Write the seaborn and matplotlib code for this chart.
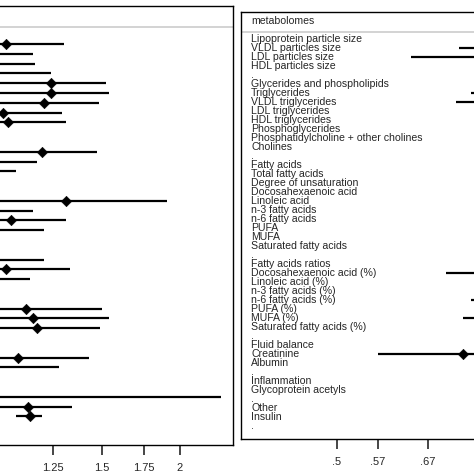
import numpy as np
import pandas as pd
import matplotlib
matplotlib.use("Agg")
import matplotlib.pyplot as plt
import seaborn as sns

sns.set_style("white")
plt.rcParams['font.family'] = ['Liberation Sans', 'DejaVu Sans']

# ---- left panel (labels cropped off) ----
left_rows = [0,1,2,3,4,5,6,7,8,11,12,13,16,17,18,19,22,23,24,27,28,29,32,33,36,37,38]
left_est  = [1.05,0.95,0.95,0.95,1.24,1.24,1.21,1.04,1.06,1.20,0.95,0.9,1.31,0.95,1.07,0.95,0.95,1.05,0.9,1.13,1.16,1.18,1.10,1.00,0.95,1.14,1.15]
left_lo   = [0.85,0.80,0.80,0.80,0.95,0.95,0.95,0.85,0.85,0.95,0.80,0.75,0.95,0.80,0.85,0.80,0.80,0.85,0.75,0.90,0.90,0.90,0.85,0.80,0.70,0.95,1.09]
left_hi   = [1.30,1.16,1.17,1.24,1.52,1.54,1.48,1.29,1.31,1.47,1.18,1.09,1.91,1.16,1.31,1.21,1.21,1.33,1.15,1.50,1.54,1.49,1.43,1.28,2.33,1.34,1.20]
left_ticks = [1.25, 1.5, 1.75, 2]
left_ticklabels = ["1.25", "1.5", "1.75", "2"]

# ---- right panel: metabolomes ----
labels = ["Lipoprotein particle size", "VLDL particles size", "LDL particles size", "HDL particles size", ".",
          "Glycerides and phospholipids", "Triglycerides", "VLDL triglycerides", "LDL triglycerides",
          "HDL triglycerides", "Phosphoglycerides", "Phosphatidylcholine + other cholines", "Cholines", ".",
          "Fatty acids", "Total fatty acids", "Degree of unsaturation", "Docosahexaenoic acid", "Linoleic acid",
          "n-3 fatty acids", "n-6 fatty acids", "PUFA", "MUFA", "Saturated fatty acids", ".",
          "Fatty acids ratios", "Docosahexaenoic acid (%)", "Linoleic acid (%)", "n-3 fatty acids (%)",
          "n-6 fatty acids (%)", "PUFA (%)", "MUFA (%)", "Saturated fatty acids (%)", ".",
          "Fluid balance", "Creatinine", "Albumin", ".", "Inflammation", "Glycoprotein acetyls", ".",
          "Other", "Insulin", "."]
right_rows = [1, 2, 6, 7, 26, 29, 31, 35]
right_est  = [0.86, 0.84, 0.90, 0.86, 0.85, 0.92, 0.88, 0.75]
right_lo   = [0.74, 0.635, 0.77, 0.735, 0.71, 0.77, 0.75, 0.57]
right_hi   = [1.00, 1.10, 1.05, 1.00, 1.02, 1.10, 1.03, 0.98]
right_ticks = [0.5, 0.57, 0.67]
right_ticklabels = [".5", ".57", ".67"]

W = H = 474
fig = plt.figure(figsize=(4.74, 4.74), dpi=100)

def fx(p): return p / W
def fy(p): return 1 - p / H

# Left axes: pixel 53 -> 1.25, 270 px per ln unit
Lx0, Lx1, Ly0, Ly1 = -200, 233, 6, 445
axL = fig.add_axes([fx(Lx0), fy(Ly1), (Lx1 - Lx0) / W, (Ly1 - Ly0) / H])
axL.set_xscale("log")
axL.set_xlim(1.25 * np.exp((Lx0 - 53) / 270), 1.25 * np.exp((Lx1 - 53) / 270))
r0, dr = 44, 9.8
axL.set_ylim((Ly1 - r0) / dr, (Ly0 - r0) / dr)
dfL = pd.DataFrame({"row": left_rows, "est": left_est, "lo": left_lo, "hi": left_hi})
axL.hlines(dfL["row"], dfL["lo"], dfL["hi"], color="black", lw=1.6)
sns.scatterplot(data=dfL[dfL["row"].isin([0,4,5,6,7,8,11,16,18,23,27,28,29,32,37,38])], x="est", y="row",
                marker="D", s=28, color="black", edgecolor="black", ax=axL, zorder=3)
axL.axhline((27 - r0) / dr, color="#cccccc", lw=1.2)

# Right axes: pixel 337 -> 0.5, 310 px per ln unit
Rx0, Rx1, Ry0, Ry1 = 241, 720, 12, 439
axR = fig.add_axes([fx(Rx0), fy(Ry1), (Rx1 - Rx0) / W, (Ry1 - Ry0) / H])
axR.set_xscale("log")
axR.set_xlim(0.5 * np.exp((Rx0 - 337) / 310), 0.5 * np.exp((Rx1 - 337) / 310))
q0, dq = 39, 9.0
axR.set_ylim((Ry1 - q0) / dq, (Ry0 - q0) / dq)
dfR = pd.DataFrame({"row": right_rows, "est": right_est, "lo": right_lo, "hi": right_hi})
axR.hlines(dfR["row"], dfR["lo"], dfR["hi"], color="black", lw=1.6)
sns.scatterplot(data=dfR, x="est", y="row", marker="D", s=28, color="black",
                edgecolor="black", ax=axR, zorder=3)
axR.axhline((32 - q0) / dq, color="#cccccc", lw=1.2)
for i, lab in enumerate(labels):
    axR.text(0.5 * np.exp((251 - 337) / 310), i, lab, fontsize=7.6, va="center", ha="left")
axR.text(0.5 * np.exp((251 - 337) / 310), (21 - q0) / dq, "metabolomes", fontsize=7.6, va="center", ha="left")

for ax, tk, tl in [(axL, left_ticks, left_ticklabels), (axR, right_ticks, right_ticklabels)]:
    ax.set_xticks(tk)
    ax.set_xticks([], minor=True)
    ax.set_xticklabels(tl, fontsize=8)
    ax.set_yticks([])
    ax.set_xlabel("")
    ax.set_ylabel("")
    ax.tick_params(axis="x", direction="out", length=7, width=1.2, pad=6, bottom=True)
    for s in ax.spines.values():
        s.set_color("black")
        s.set_linewidth(1.0)

fig.savefig("out.png", dpi=100)
